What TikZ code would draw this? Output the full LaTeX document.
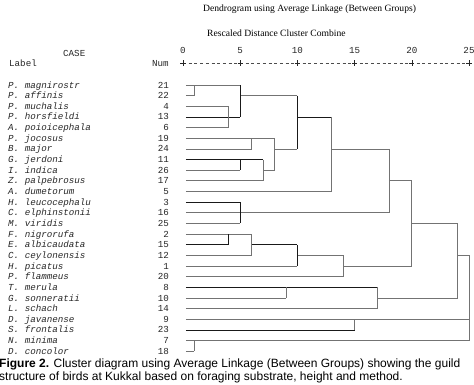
\documentclass[tikz,border=0pt]{standalone}
\usepackage{fontspec}
\setmainfont{Liberation Serif}
\setsansfont{Liberation Sans}
\setmonofont{Liberation Mono}

\begin{document}
\begin{tikzpicture}[
                  x = 1pt,
                  y = -1pt,
       link/.style = {draw=black!55, line width=0.75pt},
       bold/.style = {draw=black!90, line width=0.85pt},
       leaf/.style = {anchor=base west, inner sep=0pt, text=black!85,
                      font=\ttfamily\itshape\fontsize{9.2}{9}\selectfont},
        num/.style = {anchor=base east, inner sep=0pt, text=black!85,
                      font=\ttfamily\fontsize{9.2}{9}\selectfont},
       head/.style = {anchor=base west, inner sep=0pt, text=black!85,
                      font=\ttfamily\fontsize{9.2}{9}\selectfont},
  ticklabel/.style = {anchor=base, inner sep=0pt, text=black!85,
                      font=\ttfamily\fontsize{9.2}{9}\selectfont},
      title/.style = {anchor=base west, inner sep=0pt,
                      font=\rmfamily\fontsize{9.6}{10}\selectfont},
    caption/.style = {anchor=base west, inner sep=0pt,
                      font=\sffamily\fontsize{12}{13}\selectfont},
                    ]
    \useasboundingbox (0,0) rectangle (474,384);
    \clip (0,0) rectangle (474,384);

    % headings
    \node[title] (title) at (203,11) {Dendrogram using Average Linkage (Between Groups)};
    \node[title] (subtitle) at (207,36) {Rescaled Distance Cluster Combine};
    \node[head] (case) at (63,56) {CASE};
    \node[head] (label) at (9,66) {Label};
    \node[head] (num) at (152,66) {Num};

    % cases
    \foreach \name/\nr [count=\i from 0] in {
        P. magnirostr/21, P. affinis/22, P. muchalis/4, P. horsfieldi/13,
        A. poioicephala/6, P. jocosus/19, B. major/24, G. jerdoni/11,
        I. indica/26, Z. palpebrosus/17, A. dumetorum/5, H. leucocephalu/3,
        C. elphinstonii/16, M. viridis/25, F. nigrorufa/2, E. albicaudata/15,
        C. ceylonensis/12, H. picatus/1, P. flammeus/20, T. merula/8,
        G. sonneratii/10, L. schach/14, D. javanense/9, S. frontalis/23,
        N. minima/7, D. concolor/18}
    {
        \node[leaf] (case\i) at (8,{88+10.65*\i}) {\name};
        \node[num] (nr\i) at (169,{88+10.65*\i}) {\nr};
    }

    \begin{scope}[shift={(183,85)}, x=11.44pt, y=-10.65pt]
        % distance scale
        \draw[black!70, line width=0.5pt, dash pattern=on 3pt off 2.7pt] (0,-2.07) -- (25,-2.07);
        \foreach \d in {0,5,...,25} {
            \draw[black!85, line width=0.6pt] (\d,-1.8) -- (\d,-2.34) (\d-0.22,-2.07) -- (\d+0.22,-2.07);
            \node[ticklabel] (tick\d) at (\d,-2.95) {\d};
        }

        % horizontal lines: row/from/to/style
        \foreach \r/\a/\b/\s in {
            0/0.25/5/link, 1/0.25/1/link, 1/5/10/link, 2/0.25/4/link,
            3/0.25/5/bold, 3/10/13/bold, 4/0.25/4/link, 5/0.25/8/link,
            6/0.25/6/link, 6/8/10/link, 6/13/18/link, 7/0.25/7/bold,
            8/0.25/5/link, 8/7/8/link, 9/0.25/7/link, 9/18/20/link,
            10/0.25/13/link, 11/0.25/5/bold, 12/0.25/18/link, 13/0.25/5/link,
            13/20/24/link, 14/0.25/6/link, 15/0.25/4/bold, 15/6/10/bold,
            16/0.25/6/link, 16/10/14/link, 16/24/25/link, 17/0.25/10/link,
            17/14/20/link, 18/0.25/14/link, 19/0.25/17/bold, 20/0.25/9/link,
            20/17/24/link, 21/0.25/17/link, 22/0.25/25/link, 23/0.25/15/bold,
            24/0.25/25/link, 25/0.25/1/link}
            \draw[\s] (\a,\r) -- (\b,\r);

        % vertical lines: distance/top/bottom/style
        \foreach \d/\t/\u/\s in {
            1/0/1/link, 5/0/3/bold, 4/2/4/link, 10/1/6/bold, 6/5/6/link,
            5/7/8/bold, 7/7/9/link, 8/5/8/link, 13/3/10/link, 5/11/13/bold,
            18/6/12/link, 20/9/17/link, 4/14/15/bold, 6/14/16/link,
            10/15/17/bold, 14/16/18/link, 9/19/20/link, 17/19/21/link,
            24/13/20/link, 15/22/23/link, 1/24/25/link, 25/16/24/link}
            \draw[\s] (\d,\t) -- (\d,\u);
    \end{scope}

    % caption
    \node[caption] (cap1) at (-1,367) {\textbf{Figure 2.} Cluster diagram using Average Linkage (Between Groups) showing the guild};
    \node[caption] (cap2) at (-1,380.5) {structure of birds at Kukkal based on foraging substrate, height and method.};
\end{tikzpicture}
\end{document}
